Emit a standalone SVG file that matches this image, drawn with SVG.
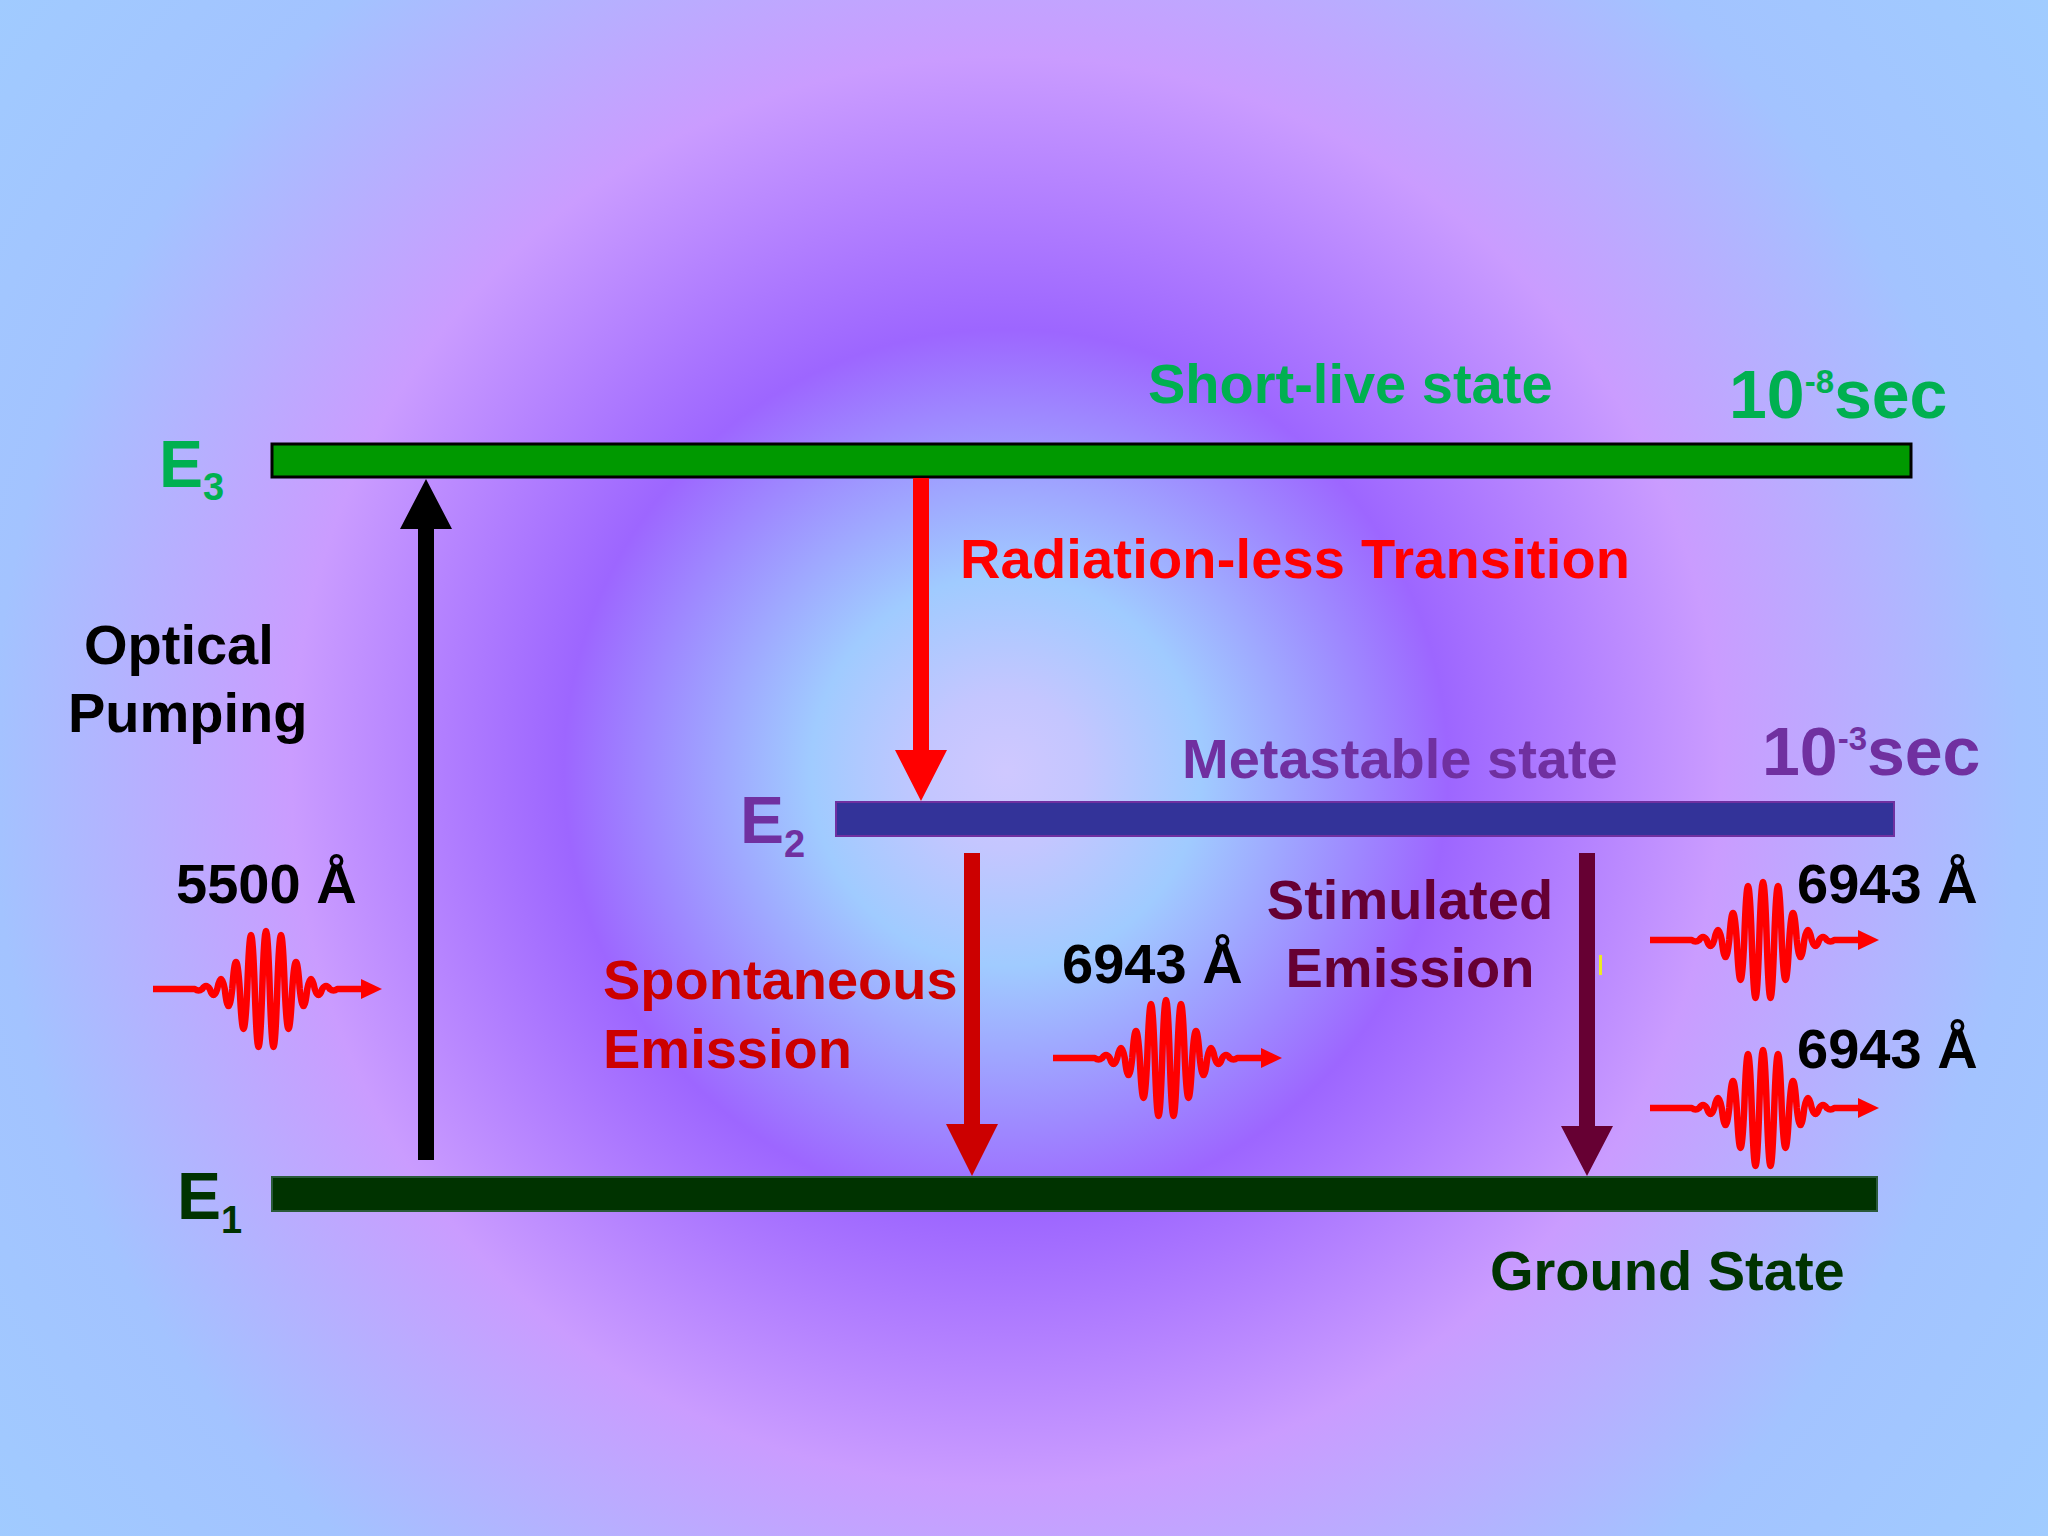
<svg xmlns="http://www.w3.org/2000/svg" xmlns:xlink="http://www.w3.org/1999/xlink" width="2048" height="1536" viewBox="0 0 2048 1536">
<defs>
<radialGradient id="bg" gradientUnits="userSpaceOnUse" cx="1006" cy="771" r="1300">
<stop offset="0" stop-color="#cfc8ff"/>
<stop offset="0.06" stop-color="#c4c6ff"/>
<stop offset="0.15" stop-color="#a0cbff"/>
<stop offset="0.34" stop-color="#9d66ff"/>
<stop offset="0.55" stop-color="#ca9cff"/>
<stop offset="0.78" stop-color="#a3c3ff"/>
<stop offset="1" stop-color="#a0ccff"/>
</radialGradient>
<g id="wave">
<path d="M-113,0 H-71.25 q3.75,3 7.5,0 q3.75,-6 7.5,0 q3.75,12 7.5,0 q3.75,-20 7.5,0 q3.75,34 7.5,0 q3.75,-54 7.5,0 q3.75,80 7.5,0 q3.75,-108 7.5,0 q3.75,116 7.5,0 q3.75,-116 7.5,0 q3.75,116 7.5,0 q3.75,-108 7.5,0 q3.75,80 7.5,0 q3.75,-54 7.5,0 q3.75,34 7.5,0 q3.75,-20 7.5,0 q3.75,12 7.5,0 q3.75,-6 7.5,0 q3.75,3 7.5,0 H98" fill="none" stroke="#ff0000" stroke-width="6.5" stroke-linejoin="round"/>
<polygon points="95,-10 116,0 95,10" fill="#ff0000"/>
</g>
</defs>
<style>
text { font-family: "Liberation Sans", Arial, sans-serif; font-weight: bold; }
.t56 { font-size: 56px; }
.lvl { font-size: 66px; }
.sub { font-size: 38px; }
.big { font-size: 68px; }
</style>
<rect x="0" y="0" width="2048" height="1536" fill="url(#bg)"/>

<g id="E3">
<rect x="272" y="444" width="1639" height="33" fill="#009900" stroke="#000000" stroke-width="3"/>
<text x="159" y="487" class="lvl" fill="#00b050">E<tspan class="sub" dy="13">3</tspan></text>
<text x="1148" y="403" class="t56" fill="#00b050">Short-live state</text>
<text x="1729" y="418" class="big" fill="#00b050">10<tspan font-size="33" dy="-25">-8</tspan><tspan dy="25">sec</tspan></text>
</g>

<g id="E2">
<rect x="836" y="802" width="1058" height="34" fill="#333399" stroke="#7030a0" stroke-width="2"/>
<text x="740" y="843" class="lvl" fill="#7030a0">E<tspan class="sub" dy="14">2</tspan></text>
<text x="1182" y="778" class="t56" fill="#7030a0">Metastable state</text>
<text x="1762" y="775" class="big" fill="#7030a0">10<tspan font-size="33" dy="-25">-3</tspan><tspan dy="25">sec</tspan></text>
</g>

<g id="E1">
<rect x="272" y="1177" width="1605" height="34" fill="#003300" stroke="#2a5a3a" stroke-width="2"/>
<text x="177" y="1219" class="lvl" fill="#003300">E<tspan class="sub" dy="14">1</tspan></text>
<text x="1490" y="1290" class="t56" fill="#003300">Ground State</text>
</g>

<g id="connectors">
<polygon id="optical-pumping" points="418,1160 434,1160 434,529 452,529 426,479 400,529 418,529" fill="#000000"/>
<polygon id="radiationless" points="913,478 929,478 929,750 947,750 921,801 895,750 913,750" fill="#ff0000"/>
<polygon id="spontaneous" points="964,853 980,853 980,1124 998,1124 972,1176 946,1124 964,1124" fill="#cc0000"/>
<polygon id="stimulated" points="1579,853 1595,853 1595,1126 1613,1126 1587,1176 1561,1126 1579,1126" fill="#660033"/>
</g>

<g id="labels">
<text x="84" y="664" class="t56" fill="#000000">Optical</text>
<text x="68" y="732" class="t56" fill="#000000">Pumping</text>
<text x="176" y="903" class="t56" fill="#000000">5500 Å</text>
<text x="960" y="578" class="t56" fill="#ff0000" textLength="670">Radiation-less Transition</text>
<text x="603" y="999" class="t56" fill="#cc0000">Spontaneous</text>
<text x="603" y="1068" class="t56" fill="#cc0000">Emission</text>
<text x="1062" y="983" class="t56" fill="#000000">6943 Å</text>
<text x="1410" y="919" class="t56" fill="#660033" text-anchor="middle">Stimulated</text>
<text x="1410" y="987" class="t56" fill="#660033" text-anchor="middle">Emission</text>
<text x="1797" y="903" class="t56" fill="#000000">6943 Å</text>
<text x="1797" y="1068" class="t56" fill="#000000">6943 Å</text>
</g>

<g id="photons">
<use xlink:href="#wave" transform="translate(266,989)"/>
<use xlink:href="#wave" transform="translate(1166,1058)"/>
<use xlink:href="#wave" transform="translate(1763,940)"/>
<use xlink:href="#wave" transform="translate(1763,1108)"/>
</g>

<rect x="1599" y="955" width="3" height="20" fill="#ecec20"/>
</svg>
